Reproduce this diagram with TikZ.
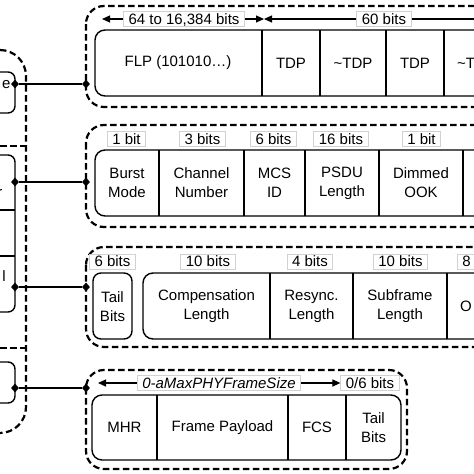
\documentclass[tikz,border=0pt]{standalone}
\usepackage{fontspec}
\setmainfont{Liberation Sans}
\usetikzlibrary{arrows.meta}
\usetikzlibrary{shapes.geometric}
\tikzset{grp/.style={line width=2.2pt, dash pattern=on 6.5pt off 3.5pt, rounded corners=18pt}}
\tikzset{fld/.style={line width=1.4pt, rounded corners=10pt}}
\tikzset{sep/.style={line width=1.4pt}}
\tikzset{bits/.style={draw=black!18, fill=white, line width=0.9pt, inner xsep=5pt, inner ysep=2pt, text height=10.5pt, text depth=0.5pt}}
\tikzset{txt/.style={align=center, inner sep=0pt}}
\tikzset{joint/.style={diamond, fill=black, inner sep=0pt, minimum width=8pt, minimum height=9pt}}
\tikzset{link/.style={line width=1.4pt}}
\tikzset{span/.style={line width=1.2pt, -{Triangle[length=8pt,width=7pt]}}}

\begin{document}
\begin{tikzpicture}[x=1pt, y=-1pt, font=\fontsize{15}{19}\selectfont]
      \useasboundingbox (0,0) rectangle (474,474);
      \clip (0,0) rectangle (474,474);

      % left column (cut off)
      \draw [grp, rounded corners=26pt] (-40,50) -- (26,50) -- (26,433) -- (-40,433);
      \draw [grp] (-40,146) -- (26,146);
      \draw [grp] (-40,348) -- (26,348);
      \draw [fld, rounded corners=7pt] (-40,72) rectangle (15,113);
      \draw [fld, rounded corners=7pt] (-40,155) rectangle (15,312);
      \draw [sep] (-40,210) -- (15,210);
      \draw [sep] (-40,256) -- (15,256);
      \draw [fld, rounded corners=7pt] (-40,362) rectangle (15,403);
      \node [txt, anchor=base east] (pre) at (10.6,88) {e};
      \node [txt, anchor=base west] (hdr) at (-2.8,197) {r};
      \node [txt, anchor=base west] (opt) at (2.2,281) {l};

      % row 1: preamble
      \draw [grp] (86,6) rectangle (560,107);
      \draw [fld] (95,30) rectangle (560,96);
      \foreach \x in {262,320,386,444}
        \draw [sep] (\x,30) -- (\x,96);
      \node [txt] (flp) at (178,63) {FLP (101010…)};
      \node [txt] (tdpa) at (291,63) {TDP};
      \node [txt] (ntdpa) at (353,63) {\textasciitilde TDP};
      \node [txt] (tdpb) at (415,63) {TDP};
      \node [txt, anchor=west] (ntdpb) at (457,63) {\textasciitilde TDP};
      \node [bits] (b64) at (184,19) {64 to 16,384 bits};
      \node [bits] (b60) at (384,19) {60 bits};
      \coordinate (f1l) at (102,19);
      \coordinate (f1r) at (264,19);
      \coordinate (f2r) at (512,19);
      \draw [span] (b64) -- (f1l);
      \draw [span] (b64) -- (f1r);
      \draw [span] (b60) -- (f1r);
      \draw [span] (b60) -- (f2r);

      % row 2: header fields
      \draw [grp] (86,125) rectangle (560,227);
      \draw [fld] (95,150) rectangle (560,216);
      \foreach \x in {159,244,305,379,463}
        \draw [sep] (\x,150) -- (\x,216);
      \node [txt] (burst) at (127,183) {Burst\\Mode};
      \node [txt] (chan) at (201.5,183) {Channel\\Number};
      \node [txt] (mcs) at (274.5,183) {MCS\\ID};
      \node [txt] (psdu) at (342,183) {PSDU\\Length};
      \node [txt] (dim) at (421,183) {Dimmed\\OOK};
      \node [bits] (b1a) at (126.5,139) {1 bit};
      \node [bits] (b3) at (202.5,139) {3 bits};
      \node [bits] (b6) at (273.5,139) {6 bits};
      \node [bits] (b16) at (341,139) {16 bits};
      \node [bits] (b1b) at (421.5,139) {1 bit};

      % row 3: optional fields
      \draw [grp] (86,247) rectangle (560,347);
      \draw [fld, rounded corners=8pt] (93,273) rectangle (132,339);
      \draw [fld] (143,273) rectangle (560,339);
      \foreach \x in {270,353,447}
        \draw [sep] (\x,273) -- (\x,339);
      \node [txt] (tail) at (112.5,306.5) {Tail\\Bits};
      \node [txt] (comp) at (206.5,306.5) {Compensation\\Length};
      \node [txt] (resync) at (311.5,306.5) {Resync.\\Length};
      \node [txt] (subfr) at (400,306.5) {Subframe\\Length};
      \node [txt, anchor=west] (ook) at (460,306.5) {O};
      \node [bits] (b6t) at (112.5,261.5) {6 bits};
      \node [bits] (b10a) at (208,261.5) {10 bits};
      \node [bits] (b4) at (310,261.5) {4 bits};
      \node [bits] (b10b) at (400.5,261.5) {10 bits};
      \node [bits, anchor=west] (b8) at (457,261.5) {8 bits};

      % row 4: PSDU
      \draw [grp] (86,370) rectangle (407,469);
      \draw [fld] (92,395) rectangle (401,460);
      \foreach \x in {157,288,346}
        \draw [sep] (\x,395) -- (\x,460);
      \node [txt] (mhr) at (124.5,427.5) {MHR};
      \node [txt] (pay) at (222.5,427.5) {Frame Payload};
      \node [txt] (fcs) at (317,427.5) {FCS};
      \node [txt] (tailb) at (373.5,427.5) {Tail\\Bits};
      \node [bits] (bmax) at (219,383) {\itshape 0-aMaxPHYFrameSize};
      \node [bits] (b06) at (370,383) {0/6 bits};
      \coordinate (p1l) at (98,383);
      \draw [span] (bmax) -- (p1l);
      \draw [span] (bmax) -- (b06);

      % links from the left column to the rows
      \foreach \n/\y in {1/84,2/182,3/287,4/388} {
        \node [joint] (ja\n) at (15,\y) {};
        \node [joint] (jb\n) at (86,\y) {};
        \draw [link] (ja\n) -- (jb\n);
      }
\end{tikzpicture}
\end{document}
